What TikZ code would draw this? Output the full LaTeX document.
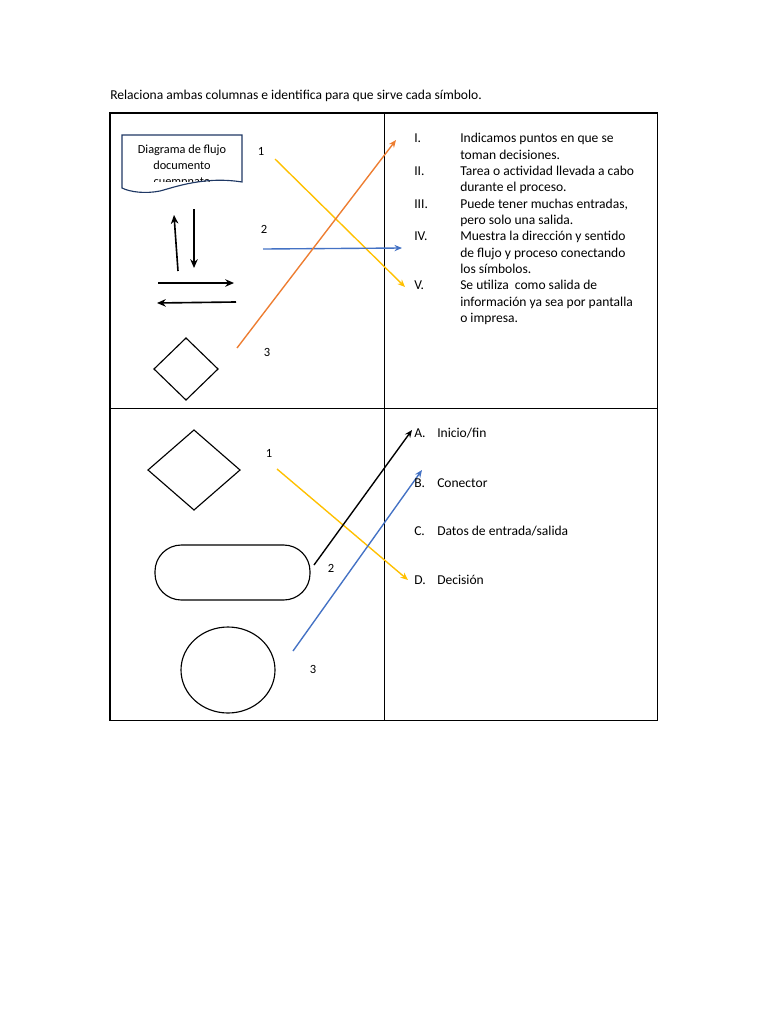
\documentclass[tikz,border=0pt]{standalone}
\usepackage{fontspec}
\setmainfont{Carlito}
\usetikzlibrary{arrows.meta}
\definecolor{docblue}{RGB}{31,56,100}
\definecolor{ylw}{RGB}{255,192,0}
\definecolor{blu}{RGB}{68,114,196}
\definecolor{org}{RGB}{237,125,49}
\begin{document}
\begin{tikzpicture}[x=0.796875pt,y=-0.796875pt,
  lbl/.style={font=\fontsize{10}{12}\selectfont,inner sep=0},
  txt/.style={font=\fontsize{10.8}{13}\selectfont,inner sep=0,anchor=base west},
  conn/.style={line width=1.1pt,-{Stealth[length=6pt,width=5pt]}},
  blk/.style={line width=1.3pt,-{Stealth[length=7pt,width=6pt]}}]
\useasboundingbox (0,0) rectangle (768,1024);
\node[txt] (title) at (110,99) {Relaciona ambas columnas e identifica para que sirve cada símbolo.};
\draw[line width=0.8pt] (110,113) rectangle (657,720);
\draw[line width=0.8pt] (384,113) -- (384,720);
\draw[line width=0.8pt] (110,408) -- (657,408);
% document shape
\begin{scope}
\clip (122,135) -- (242,135) -- (242,181) -- (122,181) -- cycle;
\node[lbl,align=center,font=\fontsize{9.8}{12.8}\selectfont] (doc) at (182,166) {Diagrama de flujo\\documento\\cuempnato};
\end{scope}
\draw[docblue,line width=0.9pt] (122,135) -- (242,135) -- (242,182)
  .. controls (205,176) and (175,187) .. (160,191) .. controls (145,194) and (130,192) .. (122,188) -- cycle;
% arrows
\coordinate (u1) at (178,271); \coordinate (u2) at (174,215);
\coordinate (d1) at (194,209); \coordinate (d2) at (194,268);
\coordinate (r1) at (158,283); \coordinate (r2) at (234,283);
\coordinate (l1) at (236,302); \coordinate (l2) at (157,303);
\draw[blk] (u1) -- (u2);
\draw[blk] (d1) -- (d2);
\draw[blk] (r1) -- (r2);
\draw[blk] (l1) -- (l2);
\draw[line width=0.9pt] (154,369) -- (186,338) -- (218,369) -- (186,400) -- cycle;
\node[lbl] (n1) at (261,151) {1};
\node[lbl] (n2) at (264,229) {2};
\node[lbl] (n3) at (267,352) {3};
\coordinate (y1) at (275,159); \coordinate (y2) at (405,287);
\coordinate (b1) at (263,249); \coordinate (b2) at (402,248);
\coordinate (o1) at (237,348); \coordinate (o2) at (396,140);
\draw[conn,ylw] (y1) -- (y2);
\draw[conn,blu] (b1) -- (b2);
\draw[conn,org] (o1) -- (o2);
% roman list
\foreach \r/\t/\yy in {I./{Indicamos puntos en que se}/142, /{toman decisiones.}/159,
  II./{Tarea o actividad llevada a cabo}/175, /{durante el proceso.}/191,
  III./{Puede tener muchas entradas,}/208, /{pero solo una salida.}/224,
  IV./{Muestra la dirección y sentido}/240, /{de flujo y proceso conectando}/257, /{los símbolos.}/273,
  V./{Se utiliza~ como salida de}/289, /{información ya sea por pantalla}/306, /{o impresa.}/322}
{\node[txt] at (414,\yy) {\r}; \node[txt] at (460,\yy) {\t};}
% bottom shapes
\draw[line width=0.9pt] (148,470) -- (194,430) -- (240,470) -- (194,510) -- cycle;
\draw[line width=0.9pt,rounded corners=21pt] (155,545) rectangle (310,600);
\draw[line width=0.9pt] (228,670) ellipse [x radius=47, y radius=43];
\node[lbl] (m1) at (269,453) {1};
\node[lbl] (m2) at (331,568) {2};
\node[lbl] (m3) at (313,669) {3};
\coordinate (p1) at (277,469); \coordinate (p2) at (408,580);
\coordinate (q1) at (314,565); \coordinate (q2) at (412,430);
\coordinate (s1) at (293,651); \coordinate (s2) at (422,470);
\draw[conn,ylw] (p1) -- (p2);
\draw[conn,black] (q1) -- (q2);
\draw[conn,blu] (s1) -- (s2);
\foreach \r/\t/\yy in {A./{Inicio/fin}/437, B./{Conector}/487, C./{Datos de entrada/salida}/535, D./{Decisión}/584}
{\node[txt] at (414,\yy) {\r}; \node[txt] at (437,\yy) {\t};}
\end{tikzpicture}
\end{document}
